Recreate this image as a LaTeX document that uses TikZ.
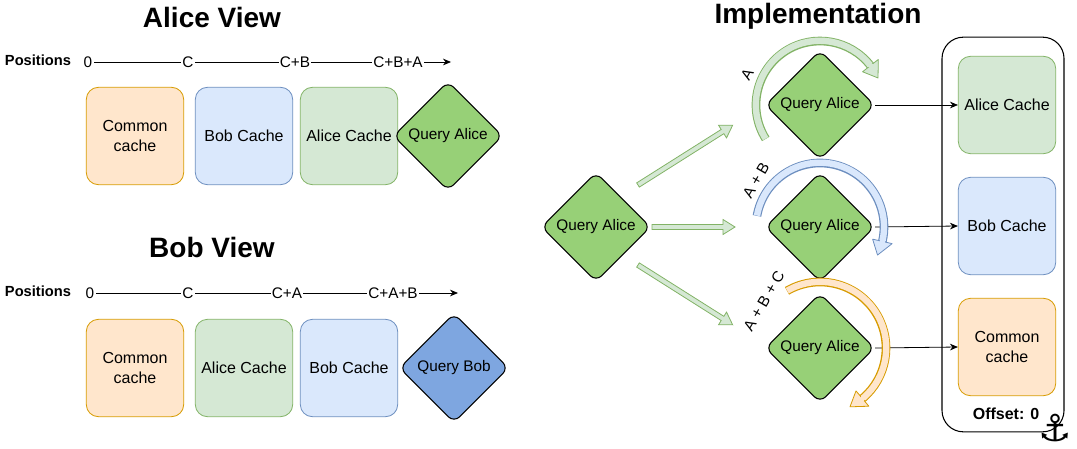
\documentclass[tikz,border=0pt]{standalone}
\usepackage{fontspec}
\setmainfont{Liberation Sans}
\newfontfamily\dejavu{DejaVu Sans}
\usetikzlibrary{shapes.geometric,arrows.meta,calc}
\definecolor{ofill}{HTML}{FFE6CC}\definecolor{oedge}{HTML}{D79B00}
\definecolor{bfill}{HTML}{DAE8FC}\definecolor{bedge}{HTML}{6C8EBF}
\definecolor{gfill}{HTML}{D5E8D4}\definecolor{gedge}{HTML}{82B366}
\definecolor{qgreen}{HTML}{97D077}\definecolor{qblue}{HTML}{7EA6E0}
\begin{document}
\begin{tikzpicture}[x=0.75pt,y=-0.75pt,
  box/.style={rectangle,rounded corners=9pt,minimum width=73pt,minimum height=73pt,align=center,font=\fontsize{12}{15}\selectfont,line width=0.6pt},
  ob/.style={box,fill=ofill,draw=oedge},
  bb/.style={box,fill=bfill,draw=bedge},
  gb/.style={box,fill=gfill,draw=gedge},
  dia/.style={diamond,aspect=1,inner sep=0pt,minimum width=82pt,minimum height=82pt,rounded corners=6pt,draw=black,line width=0.8pt,font=\fontsize{11.5}{14}\selectfont},
  title/.style={font=\bfseries\fontsize{21}{24}\selectfont},
  ptxt/.style={fill=white,inner sep=1pt,font=\fontsize{11.5}{13}\selectfont},
  posl/.style={font=\bfseries\fontsize{11}{12}\selectfont},
  ar/.style={-{Stealth[length=6pt,width=5pt]},line width=0.6pt},
  blk/.style={draw=gedge,fill=gfill,line width=0.6pt},
  lbl/.style={rotate=60,font=\fontsize{11.5}{13}\selectfont}]
\useasboundingbox (0,0) rectangle (1077,449);
% Alice view
\node[title] (t1) at (212,17) {Alice View};
\node[posl] (p1) at (38,60) {Positions};
\coordinate (a0) at (83,62); \coordinate (a1) at (451,62);
\draw[ar] (a0) -- (a1);
\node[ptxt] at (88,62) {0};
\node[ptxt] at (188,62) {C};
\node[ptxt] at (295,62) {C+B};
\node[ptxt] at (398,62) {C+B+A};
\node[ob] (ac) at (135,136) {Common\\cache};
\node[bb] (ab) at (244,136) {Bob Cache};
\node[gb] (aa) at (349,136) {Alice Cache};
\node[dia,fill=qgreen] (aq) at (448,136) {Query Alice};
% Bob view
\node[title] (t2) at (212,247) {Bob View};
\node[posl] (p2) at (38,291) {Positions};
\coordinate (b0) at (85,293); \coordinate (b1) at (458,293);
\draw[ar] (b0) -- (b1);
\node[ptxt] at (90,293) {0};
\node[ptxt] at (188,293) {C};
\node[ptxt] at (287,293) {C+A};
\node[ptxt] at (393,293) {C+A+B};
\node[ob] (bc) at (135,368) {Common\\cache};
\node[gb] (ba) at (244,368) {Alice Cache};
\node[bb] (bbb) at (349,368) {Bob Cache};
\node[dia,fill=qblue] (bq) at (454,368) {Query Bob};
% Implementation
\node[title] (t3) at (818,16) {Implementation};
\node[dia,fill=qgreen] (q0) at (596,227) {Query Alice};
\node[dia,fill=qgreen] (q1) at (820,105) {Query Alice};
\node[dia,fill=qgreen] (q2) at (820,227) {Query Alice};
\node[dia,fill=qgreen] (q3) at (820,348) {Query Alice};
\node[draw,rounded corners=16pt,line width=0.8pt,minimum width=91.5pt,minimum height=296pt] (frame) at (1003,234.5) {};
\node[gb] (c1) at (1007,105) {Alice Cache};
\node[bb] (c2) at (1007,226) {Bob Cache};
\node[ob] (c3) at (1007,347) {Common\\cache};
\draw[ar] (q1.east) -- (c1.west);
\draw[ar] (q2.east) -- (c2.west);
\draw[ar] (q3.east) -- (c3.west);
\node[font=\bfseries\fontsize{12}{13}\selectfont] (off) at (1006,414) {Offset: 0};
\node[font=\dejavu\bfseries\fontsize{28}{28}\selectfont] (anc) at (1055,428) {\char"2693};
% block arrows q0 -> q1,q2,q3
\foreach \sx/\sy/\ang/\L in {638/185/32.3/112, 652/227/0/83, 638/265/-32.3/112}{
  \path[blk,shift={(\sx,\sy)},rotate=\ang] (0,-2.5) -- (\L-12,-2.5) -- (\L-12,-7.5) -- (\L,0) -- (\L-12,7.5) -- (\L-12,2.5) -- (0,2.5) -- cycle;
}
% curved block arrows
\foreach \c/\a/\b/\r/\fc/\ec in {q1/148/322/64/gfill/gedge, q2/190/373/64/bfill/bedge, q3/240/410/66/ofill/oedge}{
  \draw[\ec,line width=6.5pt] ($(\c)+(\a:\r)$) arc[start angle=\a,end angle=\b,radius=\r];
  \draw[\fc,line width=4.8pt] ($(\c)+(\a:\r)+(\a+90:0.3)$) arc[start angle=\a,end angle=\b,radius=\r];
  \draw[\ec,fill=\fc,line width=0.6pt,line join=round] ($(\c)+(\b:\r-10)$) -- ($(\c)+(\b+13:\r)$) -- ($(\c)+(\b:\r+10)$) -- cycle;
  \fill[\fc] ($(\c)+(\b-1:\r-3)$) rectangle ($(\c)+(\b+0.5:\r+3)$);
}
\node[lbl] (l1) at (747,74) {A};
\node[lbl] (l2) at (756,180) {A + B};
\node[lbl] (l3) at (764,301) {A + B + C};
\end{tikzpicture}
\end{document}
